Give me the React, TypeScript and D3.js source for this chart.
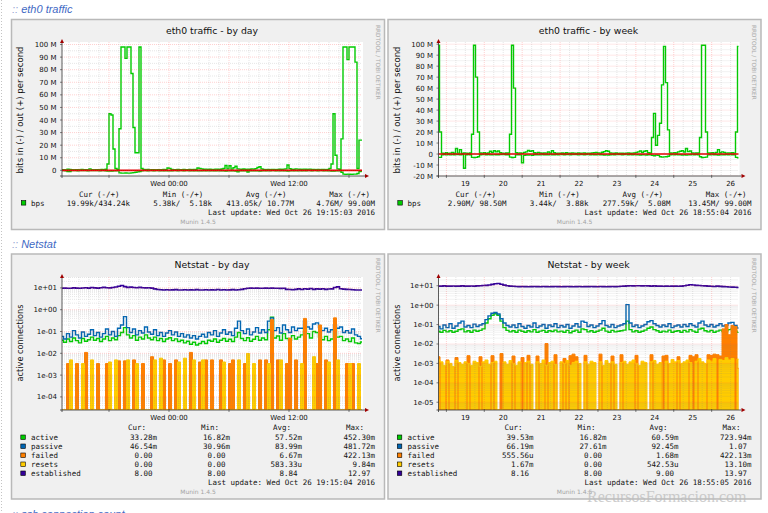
import React from "react";
import * as d3 from "d3";

const SANS = "'DejaVu Sans', Verdana, sans-serif";
const MONO = "'DejaVu Sans Mono', monospace";
const LEG_FS = 7.5;
const CHAR_W = LEG_FS * 0.602;

const GREEN = "#00cc00";
const ZERO_RED = "#e00000";
const MINOR = "rgba(130,130,130,0.33)";
const MAJOR = "rgba(255,70,70,0.42)";
const MIN_MS = 60000;
const HOUR_MS = 3600000;

// ---------- eth0 traffic by day (Mbit/s), one sample every 12 minutes ----------
const ethDayStart = Date.UTC(2016, 9, 25, 13, 18);
const ethDayStepMin = 12;
const ethDayOut = [
  0.6, 0.5, 0.4, 0.9, 0.7, 0.5, 0.4, 0.6, 0.5, 0.4,
  0.8, 0.5, 0.6, 0.4, 1.2, 0.5, 0.4, 0.6, 0.5, 0.4,
  0.7, 0.5, 0.9, 5, 45, 44, 17, 1.5, 0.8, 33,
  98, 98, 89, 98, 98, 77, 34, 14, 14, 98,
  1.5, 0.8, 0.5, 0.7, 0.4, 0.6, 0.5, 0.4, 0.6, 0.5,
  0.5, 0.7, 0.5, 1.8, 1.6, 0.8, 0.6, 0.5, 0.7, 0.6,
  0.5, 0.8, 0.6, 0.5, 0.7, 0.6, 0.8, 0.7, 1.8, 1.5,
  1.2, 0.9, 1.0, 0.8, 0.9, 0.7, 0.8, 1.0, 0.9, 0.8,
  1.1, 1.5, 3.8, 1.2, 3.6, 1.0, 2.0, 3.2, 1.2, 1.0,
  0.9, 1.1, 0.8, 1.0, 0.9, 1.2, 1.0, 1.4, 2.2, 2.8,
  1.2, 0.8, 0.6, 0.7, 0.6, 0.8, 0.7, 0.6, 0.8, 0.9,
  0.7, 1.0, 1.2, 4.2, 1.4, 0.9, 0.8, 1.2, 1.0, 0.9,
  0.8, 1.0, 0.9, 0.8, 1.0, 0.7, 0.8, 0.6, 0.7, 0.6,
  0.8, 0.7, 0.6, 0.8, 1.5, 5, 45, 12, 1.2, 0.9,
  25, 98, 98, 88, 98, 98, 98, 86, 1.5, 24, 24,
];
const ethDayIn = [
  0.2, 0.2, 0.3, 1.0, 0.9, 0.2, 0.1, 0.2, 0.3, 0.2,
  0.2, 0.1, 0.2, 0.3, 0.2, 0.2, 0.1, 0.2, 0.2, 0.3,
  0.2, 0.2, 0.3, 0.5, 0.6, 0.6, 0.4, 0.3, 0.2, 2.0,
  2.2, 2.2, 2.1, 2.2, 2.2, 2.0, 1.8, 1.5, 1.2, 1.0,
  0.3, 0.2, 0.2, 0.3, 0.2, 0.2, 0.3, 0.2, 0.2, 0.3,
  0.2, 0.3, 0.2, 0.3, 0.4, 0.3, 0.2, 0.2, 0.3, 0.2,
  0.2, 0.3, 0.2, 0.2, 0.3, 0.2, 0.3, 0.2, 0.3, 0.4,
  0.3, 0.2, 0.3, 0.2, 0.3, 0.2, 0.3, 0.3, 0.2, 0.3,
  0.3, 0.4, 0.5, 0.3, 0.4, 0.3, 0.4, 0.5, 1.2, 0.4,
  0.3, 0.3, 0.4, 1.3, 0.3, 0.3, 0.3, 0.4, 0.4, 0.5,
  0.3, 0.2, 0.3, 0.2, 0.3, 0.2, 0.2, 0.3, 0.2, 0.3,
  0.2, 0.3, 0.3, 0.6, 0.3, 0.2, 0.3, 0.2, 0.3, 0.2,
  0.3, 0.2, 0.3, 0.2, 0.2, 0.3, 0.2, 0.2, 0.3, 0.2,
  0.2, 0.3, 0.2, 0.3, 0.4, 0.5, 0.6, 0.4, 0.3, 0.4,
  1.5, 3.0, 3.2, 3.0, 3.1, 3.2, 3.0, 3.0, 2.5, 1.0, 0.5,
];
const ethDayTicks = [0, 10, 20, 30, 40, 50, 60, 70, 80, 90, 100];
const ethDayStats = ["19.99k/434.24k", "5.38k/  5.18k", "413.05k/ 10.77M", "4.76M/ 99.00M"];
const ethDayUpdated = "Wed Oct 26 19:15:03 2016";

// ---------- eth0 traffic by week (Mbit/s), one sample every 76 minutes ----------
const ethWeekStart = Date.UTC(2016, 9, 18, 19, 0);
const ethWeekStepMin = 76;
const ethWeekOut = [
  99, 20, 0.8, 0.6, 1.2, 0.5, 0.8, 1.5, 0.7, 5,
  0.8, 4, 0.6, 1.0, 0.8, 0.6, 0.9, 18, 99, 70,
  20, 1.0, 0.8, 1.2, 0.6, 1.0, 2.5, 1.5, 3.0, 2.0,
  2.8, 1.2, 0.8, 0.6, 0.9, 1.0, 18, 99, 60, 1.2,
  0.8, 1.0, 0.6, 1.5, 2.0, 3.2, 2.5, 3.0, 1.2, 0.8,
  1.5, 0.9, 0.7, 1.0, 0.8, 1.8, 1.0, 3.0, 1.2, 0.6,
  0.8, 0.7, 0.9, 0.6, 1.2, 0.8, 0.7, 1.0, 0.8, 0.6,
  0.9, 0.7, 0.8, 1.0, 0.6, 0.8, 0.7, 0.9, 1.2, 1.5,
  1.0, 0.8, 1.6, 2.2, 3.0, 2.6, 1.0, 0.8, 0.7, 0.9,
  0.6, 0.8, 0.7, 0.6, 0.8, 0.9, 0.7, 0.8, 1.0, 1.5,
  2.0, 2.8, 1.5, 2.5, 3.0, 1.2, 1.0, 15, 37, 8,
  17, 28, 63, 98, 65, 22, 1.0, 0.8, 1.2, 0.9,
  2.0, 2.5, 3.0, 1.8, 5.0, 2.2, 2.8, 1.0, 0.8, 0.9,
  1.0, 15, 99, 99, 20, 1.0, 0.9, 1.2, 0.8, 1.5,
  4.0, 1.2, 2.0, 1.5, 0.8, 1.0, 0.9, 1.2, 0.8, 20, 98,
];
const ethWeekIn = [
  3, 3, 0.8, 0.5, 0.6, 0.4, 0.8, 0.5, 0.6, 0.4,
  0.5, 0.6, 0.4, 13, 0.6, 0.5, 0.7, 3, 3.2, 3,
  2.5, 0.6, 0.5, 0.4, 0.6, 0.5, 0.8, 0.6, 0.5, 0.7,
  0.6, 0.5, 0.4, 0.5, 0.6, 0.7, 2.8, 3.2, 3.0, 0.8,
  0.6, 0.8, 8, 1.2, 0.9, 1.0, 0.8, 1.2, 0.7, 0.6,
  0.8, 0.6, 0.5, 0.7, 0.6, 0.8, 0.5, 0.6, 0.7, 0.5,
  0.6, 0.5, 0.4, 0.6, 0.5, 0.4, 0.6, 0.5, 0.4, 0.5,
  0.6, 0.4, 0.5, 0.6, 0.5, 0.4, 0.6, 0.5, 0.7, 0.6,
  0.5, 0.6, 0.7, 0.9, 0.8, 1.0, 0.6, 0.5, 0.6, 0.4,
  0.5, 0.4, 0.6, 0.5, 0.4, 0.6, 0.5, 0.6, 0.5, 0.7,
  0.8, 0.9, 0.7, 0.8, 0.9, 0.6, 0.8, 1.2, 1.5, 1.0,
  1.2, 2.5, 2.8, 2.6, 2.5, 2.0, 0.6, 0.5, 0.6, 0.5,
  0.8, 0.7, 0.9, 0.6, 1.0, 0.8, 0.7, 0.5, 0.6, 0.5,
  0.8, 2.5, 3.2, 3.0, 2.8, 0.8, 0.6, 0.5, 0.7, 0.6,
  1.0, 0.6, 0.8, 0.6, 0.5, 0.6, 0.5, 0.7, 0.8, 3.0, 3.5,
];
const ethWeekTicks = [-20, -10, 0, 10, 20, 30, 40, 50, 60, 70, 80, 90, 100];
const ethWeekStats = ["2.90M/ 98.50M", "3.44k/  3.88k", "277.59k/  5.08M", "13.45M/ 99.00M"];
const ethWeekUpdated = "Wed Oct 26 18:55:04 2016";

const ethStatHeads = ["Cur (-/+)", "Min (-/+)", "Avg (-/+)", "Max (-/+)"];

// ---------- netstat (active/passive/failed/resets in milli-connections per second) ----------
const netNames = ["active", "passive", "failed", "resets", "established"];
const netColors = ["#00cc00", "#0066b3", "#ff8000", "#ffcc00", "#330099"];
const netStatHeads = ["Cur:", "Min:", "Avg:", "Max:"];

const netDayStepMin = 18;
const netDayActive = [
  40, 32, 45, 35, 50, 38, 30, 48, 36, 42,
  55, 40, 48, 35, 45, 60, 38, 50, 42, 65,
  90, 150, 70, 50, 65, 40, 55, 45, 70, 50,
  42, 55, 38, 48, 35, 45, 52, 38, 46, 35,
  40, 30, 36, 26, 32, 24, 28, 35, 28, 40,
  36, 45, 32, 40, 48, 36, 44, 35, 55, 90,
  48, 38, 52, 36, 44, 60, 40, 50, 42, 120,
  452, 50, 62, 40, 80, 48, 38, 65, 45, 55,
  70, 130, 80, 50, 100, 90, 55, 42, 60, 38,
  45, 120, 55, 60, 38, 45, 35, 50, 30, 28, 33.28,
];
const netDayPassive = [
  60, 45, 80, 55, 110, 70, 50, 95, 60, 75,
  120, 65, 90, 55, 80, 130, 70, 100, 60, 140,
  200, 481, 150, 90, 130, 70, 110, 85, 160, 95,
  75, 120, 65, 90, 60, 85, 110, 70, 95, 60,
  80, 55, 70, 50, 65, 45, 60, 75, 55, 90,
  70, 110, 60, 85, 120, 75, 95, 65, 140, 300,
  110, 80, 130, 70, 95, 150, 85, 120, 90, 300,
  420, 110, 150, 85, 200, 120, 90, 160, 110, 140,
  140, 300, 160, 130, 220, 250, 150, 110, 140, 95,
  120, 200, 140, 160, 90, 110, 85, 130, 70, 60, 46.54,
];
const netDayFailed = [
  0, 0, 3.4, 0, 0, 3.4, 0, 0, 11, 0,
  0, 0, 3.4, 0, 0, 3.4, 0, 0, 0, 4.5,
  0, 4.5, 0, 0, 5, 0, 0, 3.4, 0, 0,
  7, 0, 0, 0, 5, 0, 3.4, 0, 5, 0,
  0, 0, 0, 11, 0, 0, 4, 0, 5, 0,
  5, 0, 0, 5, 0, 0, 3.4, 5, 0, 0,
  0, 3.4, 0, 0, 0, 0, 5, 0, 5, 0,
  350, 0, 5, 0, 0, 3.4, 50, 0, 5, 0,
  0, 400, 0, 0, 0, 3.4, 200, 0, 5, 0,
  0, 422.13, 0, 0, 0, 3.4, 0, 3.4, 0, 0, 0,
];
const netDayResets = [
  0, 0, 0, 5, 0, 0, 0, 3.4, 0, 0,
  5, 0, 0, 0, 0, 0, 4, 0, 5, 0,
  0, 0, 5, 0, 0, 3.4, 0, 0, 0, 0,
  0, 5, 0, 6, 0, 0, 0, 0, 0, 4,
  0, 6, 0, 0, 5, 0, 0, 5, 0, 0,
  0, 0, 0, 0, 4, 0, 0, 0, 0, 5,
  0, 0, 9.84, 0, 3.4, 0, 0, 0, 0, 3.4,
  0, 0, 0, 5, 0, 0, 0, 0, 0, 0,
  3.4, 0, 0, 0, 7, 0, 0, 0, 0, 4,
  0, 0, 5, 0, 0, 0, 3.4, 0, 0, 3.4, 0,
];
const netDayEstablished = [
  9.6, 9.8, 9.6, 9.7, 10.0, 9.8, 9.6, 9.9, 10.2, 9.8,
  10.4, 10.0, 9.8, 10.2, 10.6, 10.2, 10.0, 10.4, 11.0, 12.0,
  12.97, 11.5, 10.6, 10.8, 10.4, 10.2, 10.6, 10.2, 10.0, 10.2,
  9.8, 9.0, 8.4, 8.2, 8.0, 8.2, 8.0, 8.1, 8.3, 8.0,
  8.0, 8.2, 8.0, 8.1, 8.0, 8.3, 8.0, 8.0, 8.2, 8.0,
  8.1, 8.0, 8.4, 8.0, 8.2, 8.0, 8.1, 8.3, 8.0, 8.2,
  8.6, 9.2, 9.6, 9.8, 9.6, 9.8, 9.6, 9.7, 9.8, 9.6,
  9.8, 9.6, 9.7, 9.5, 9.6, 8.6, 8.4, 8.2, 8.6, 9.0,
  8.5, 9.2, 8.8, 9.4, 8.6, 9.0, 8.8, 9.2, 8.6, 8.9,
  9.0, 10.5, 11.2, 9.2, 8.8, 8.6, 8.4, 8.2, 8.0, 8.0, 8.0,
];
const netDayCur = ["33.28m", "46.54m", "0.00", "0.00", "8.00"];
const netDayMin = ["16.82m", "30.96m", "0.00", "0.00", "8.00"];
const netDayAvg = ["57.52m", "83.99m", "6.67m", "583.33u", "8.84"];
const netDayMax = ["452.30m", "481.72m", "422.13m", "9.84m", "12.97"];
const netDayUpdated = "Wed Oct 26 19:15:04 2016";

const netWeekStepMin = 114;
const netWeekActive = [
  45, 40, 50, 42, 48, 40, 45, 55, 60, 42,
  48, 40, 52, 45, 50, 60, 120, 200, 300, 360,
  300, 150, 70, 50, 42, 48, 40, 52, 45, 40,
  48, 42, 55, 40, 46, 50, 40, 48, 44, 52,
  42, 46, 40, 50, 38, 45, 52, 40, 60, 55,
  42, 48, 40, 45, 52, 65, 46, 40, 50, 42,
  45, 48, 52, 150, 55, 42, 48, 40, 45, 52,
  65, 75, 55, 48, 40, 46, 42, 52, 40, 45,
  48, 40, 50, 42, 55, 46, 40, 58, 65, 48,
  42, 50, 40, 46, 52, 44, 48, 55, 60, 45, 39.53,
];
const netWeekPassive = [
  80, 60, 95, 70, 110, 65, 85, 120, 150, 75,
  90, 70, 105, 80, 95, 110, 180, 280, 380, 420,
  350, 200, 120, 90, 75, 95, 70, 110, 80, 65,
  90, 75, 120, 70, 85, 100, 65, 95, 80, 110,
  70, 90, 75, 100, 65, 85, 110, 75, 150, 130,
  80, 95, 70, 85, 110, 160, 90, 75, 100, 70,
  85, 95, 110, 1070, 120, 80, 95, 70, 85, 100,
  140, 160, 110, 90, 75, 95, 80, 110, 70, 85,
  95, 75, 100, 80, 110, 90, 75, 120, 150, 95,
  80, 100, 75, 90, 110, 85, 95, 120, 130, 90, 66.19,
];
const netWeekFailed = [
  2.2, 0, 0, 1.5, 0, 0, 2.0, 0, 0, 0,
  2.5, 0, 0, 0, 2.2, 0, 0, 0, 2.5, 0,
  0, 3.2, 0, 0, 0, 2.4, 0, 0, 2.0, 0,
  2.6, 0, 0, 2.4, 0, 0, 10.5, 0, 0, 2.8,
  0, 0, 1.8, 0, 2.5, 3.0, 2.2, 0, 0, 2.6,
  0, 0, 0, 0, 3.0, 0, 0, 0, 2.4, 0,
  0, 2.8, 0, 0, 0, 0, 2.6, 0, 0, 0,
  0, 2.8, 0, 0, 0, 2.4, 2.6, 0, 0, 0,
  2.2, 0, 0, 0, 2.6, 2.2, 2.8, 0, 0, 0,
  2.8, 2.6, 3.0, 2.8, 2.4, 60, 100, 30, 90, 80, 0.56,
];
const netWeekResets = [
  1.5, 1.2, 0.8, 1.3, 1.0, 0.7, 1.4, 1.1, 0.9, 1.2,
  1.0, 0.8, 1.3, 1.1, 0.7, 1.2, 1.5, 0.9, 1.1, 1.3,
  0, 0, 1.2, 0.9, 1.4, 1.0, 0.8, 1.2, 0, 1.1,
  1.3, 0.9, 0, 1.2, 1.0, 1.5, 0.8, 1.1, 1.3, 0.9,
  0, 1.2, 1.0, 1.4, 0.8, 1.1, 1.3, 1.0, 0, 1.2,
  0.9, 1.3, 1.1, 0, 1.2, 0.8, 1.4, 1.0, 1.2, 0.9,
  0, 1.1, 1.3, 0.9, 1.2, 1.5, 1.0, 0.8, 1.3, 1.1,
  0, 1.2, 1.4, 0.9, 1.1, 0, 1.3, 1.0, 1.6, 1.2,
  1.4, 1.0, 1.2, 1.5, 1.1, 0, 1.3, 1.8, 1.2, 1.0,
  1.5, 1.3, 1.8, 0, 1.6, 1.4, 2.0, 1.5, 1.8, 0, 1.67,
];
const netWeekEstablished = [
  9.5, 9.6, 9.8, 9.6, 9.5, 9.7, 9.6, 9.5, 9.8, 9.6,
  9.5, 9.7, 9.6, 9.8, 10.0, 10.2, 10.5, 11.0, 11.8, 12.6,
  13.0, 12.0, 10.8, 10.0, 9.6, 9.4, 9.2, 9.0, 9.2, 9.0,
  8.9, 9.0, 9.2, 9.0, 8.9, 9.1, 9.0, 8.8, 9.0, 9.1,
  9.0, 8.9, 9.0, 9.2, 9.0, 8.8, 9.0, 9.1, 8.9, 9.0,
  9.0, 9.2, 9.0, 8.9, 9.1, 9.0, 8.8, 9.0, 9.2, 9.0,
  9.2, 9.4, 9.6, 9.8, 10.0, 9.8, 9.9, 10.0, 9.8, 10.0,
  9.8, 9.6, 9.8, 9.5, 9.6, 9.4, 9.5, 9.4, 9.6, 9.5,
  9.4, 9.6, 10.0, 10.6, 11.2, 11.0, 10.5, 10.2, 10.0, 9.8,
  9.6, 9.4, 9.2, 9.5, 9.3, 9.0, 8.8, 8.6, 8.5, 8.3, 8.16,
];
const netWeekCur = ["39.53m", "66.19m", "555.56u", "1.67m", "8.16"];
const netWeekMin = ["16.82m", "27.61m", "0.00", "0.00", "8.00"];
const netWeekAvg = ["60.59m", "92.45m", "1.68m", "542.53u", "9.00"];
const netWeekMax = ["723.94m", "1.07", "422.13m", "13.10m", "13.97"];
const netWeekUpdated = "Wed Oct 26 18:55:05 2016";

type Mode = "day" | "week";

function timeMarks(mode: Mode, t0: number, t1: number) {
  const a = new Date(t0);
  const b = new Date(t1 + 1);
  if (mode === "day") {
    const fmt = d3.utcFormat("%a %H:%M");
    return {
      minor: d3.utcHour.range(a, b),
      major: d3.utcHour.every(6)!.range(a, b),
      labels: d3.utcHour.every(12)!.range(a, b).map((d) => ({ t: d, text: fmt(d) })),
    };
  }
  const fmt = d3.utcFormat("%d");
  return {
    minor: d3.utcHour.every(6)!.range(a, b),
    major: d3.utcDay.range(a, b),
    labels: d3.utcDay
      .range(new Date(t0 - 24 * HOUR_MS), b)
      .map((d) => ({ t: new Date(+d + 12 * HOUR_MS), text: fmt(d) }))
      .filter((l) => +l.t >= t0 && +l.t <= t1),
  };
}

function Frame(p: {
  dx: number; top: number; bottom: number; title: string; titleY: number;
  yTitle: string; yTitleY: number; yTitleFs: number; rrdY: number; muninY: number;
}) {
  const { dx } = p;
  return (
    <g>
      <rect x={11.5 + dx} y={p.top} width={373} height={p.bottom - p.top} fill="#f0f0f0" stroke="#b9b9b9" strokeWidth={1.5} />
      <text x={212 + dx} y={p.titleY} textAnchor="middle" fontFamily={SANS} fontSize={9.3} fill="#111">{p.title}</text>
      <text transform={`translate(${375.5 + dx},${p.rrdY}) rotate(90)`} fontFamily={SANS} fontSize={5.8} fill="#aaaaaa">
        RRDTOOL / TOBI OETIKER
      </text>
      <text transform={`translate(${23 + dx},${p.yTitleY}) rotate(-90)`} textAnchor="middle" fontFamily={SANS} fontSize={p.yTitleFs} fill="#111">
        {p.yTitle}
      </text>
      <text x={198 + dx} y={p.muninY} textAnchor="middle" fontFamily={SANS} fontSize={6} fill="#a3a3a3">Munin 1.4.5</text>
    </g>
  );
}

function Axes({ x0, x1, yT, yB, ticksX }: { x0: number; x1: number; yT: number; yB: number; ticksX: number[] }) {
  return (
    <g>
      <line x1={x0} y1={yB + 2} x2={x0} y2={yT + 1} stroke="#333" strokeWidth={0.8} />
      <line x1={x0 - 2} y1={yB} x2={x1 + 3} y2={yB} stroke="#333" strokeWidth={0.8} />
      <path d={`M${x0 - 2},${yT + 1}L${x0 + 2},${yT + 1}L${x0},${yT - 3}Z`} fill="#a00000" />
      <path d={`M${x1 + 3},${yB - 2}L${x1 + 3},${yB + 2}L${x1 + 7},${yB}Z`} fill="#a00000" />
      {ticksX.map((tx, i) => (
        <line key={i} x1={tx} x2={tx} y1={yB - 1} y2={yB + 2} stroke="#333" strokeWidth={0.6} />
      ))}
    </g>
  );
}

function VGrid({ x, marks, yT, yB }: { x: (d: Date) => number; marks: ReturnType<typeof timeMarks>; yT: number; yB: number }) {
  const majorSet = new Set(marks.major.map((d) => +d));
  return (
    <g>
      {marks.minor.filter((d) => !majorSet.has(+d)).map((d, i) => (
        <line key={"m" + i} x1={x(d)} x2={x(d)} y1={yT} y2={yB} stroke={MINOR} strokeWidth={0.6} strokeDasharray="1,1" />
      ))}
      {marks.major.map((d, i) => (
        <line key={"M" + i} x1={x(d)} x2={x(d)} y1={yT} y2={yB} stroke={MAJOR} strokeWidth={0.6} strokeDasharray="1,1" />
      ))}
    </g>
  );
}

function EthPanel(p: {
  id: string; dx: number; title: string; start: number; stepMin: number;
  outV: number[]; inV: number[]; domain: [number, number]; ticks: number[];
  mode: Mode; stats: string[]; updated: string;
}) {
  const { dx } = p;
  const x0 = 62 + dx, x1 = 362 + dx, yT = 42, yB = 176;
  const step = p.stepMin * MIN_MS;
  const t0 = p.start, t1 = p.start + (p.outV.length - 1) * step;
  const x = d3.scaleUtc().domain([t0, t1]).range([x0, x1]);
  const y = d3.scaleLinear().domain(p.domain).range([yB, yT]);
  const xi = (_: number, i: number) => x(t0 + i * step);
  const outPath = d3.line<number>().x(xi).y((v) => y(v)).curve(d3.curveStep)(p.outV) || "";
  const inPath = d3.line<number>().x(xi).y((v) => y(-v)).curve(d3.curveStep)(p.inV) || "";
  const marks = timeMarks(p.mode, t0, t1);
  const minorY = d3.range(Math.ceil(p.domain[0] / 5) * 5, p.domain[1], 5).filter((v) => v % 10 !== 0);
  const headX = [79, 162.7, 246, 329.3];
  const colEnd = [130, 212, 294, 375];
  return (
    <g>
      <Frame dx={dx} top={19.5} bottom={229.5} title={p.title} titleY={33.5}
        yTitle="bits in (-) / out (+) per second" yTitleY={110} yTitleFs={8.5} rrdY={25} muninY={224} />
      <clipPath id={p.id}>
        <rect x={x0} y={yT} width={x1 - x0 + 1} height={yB - yT} />
      </clipPath>
      <rect x={x0} y={yT} width={x1 - x0 + 1} height={yB - yT} fill="#fff" />
      <g clipPath={`url(#${p.id})`}>
        <path d={inPath} fill="none" stroke={GREEN} strokeWidth={1.4} />
        <path d={outPath} fill="none" stroke={GREEN} strokeWidth={1.4} />
        <line x1={x0} x2={x1} y1={y(0)} y2={y(0)} stroke={ZERO_RED} strokeWidth={1.6} />
        {minorY.map((v) => (
          <line key={"hm" + v} x1={x0} x2={x1} y1={y(v)} y2={y(v)} stroke={MINOR} strokeWidth={0.6} strokeDasharray="1,1" />
        ))}
        {p.ticks.map((v) => (
          <line key={"hM" + v} x1={x0} x2={x1} y1={y(v)} y2={y(v)} stroke={MAJOR} strokeWidth={0.6} strokeDasharray="1,1" />
        ))}
        <VGrid x={(d) => x(d)} marks={marks} yT={yT} yB={yB} />
      </g>
      <Axes x0={x0} x1={x1} yT={yT} yB={yB} ticksX={marks.major.map((d) => x(d))} />
      {p.ticks.map((v) => (
        <g key={"t" + v}>
          <line x1={x0 - 2} x2={x0} y1={y(v)} y2={y(v)} stroke="#333" strokeWidth={0.6} />
          <text x={x0 - 5.5} y={y(v) + 2.5} textAnchor="end" fontFamily={SANS} fontSize={7} fill="#111">
            {v === 0 ? "0" : `${v} M`}
          </text>
        </g>
      ))}
      {marks.labels.map((l, i) => (
        <text key={"xl" + i} x={x(l.t)} y={186} textAnchor="middle" fontFamily={SANS} fontSize={7} fill="#111">{l.text}</text>
      ))}
      <g fontFamily={MONO} fontSize={LEG_FS} fill="#111">
        {ethStatHeads.map((h, i) => (
          <text key={h} x={headX[i] + dx} y={197} xmlSpace="preserve" style={{ whiteSpace: "pre" }}>{h}</text>
        ))}
        <rect x={21.3 + dx} y={200.6} width={4.5} height={4.5} fill={GREEN} stroke="#000" strokeWidth={0.6} />
        <text x={31 + dx} y={206}>bps</text>
        {p.stats.map((s, i) => (
          <text key={i} x={colEnd[i] + dx} y={206} textAnchor="end" xmlSpace="preserve" style={{ whiteSpace: "pre" }}>{s}</text>
        ))}
        <text x={375 + dx} y={215} textAnchor="end" xmlSpace="preserve" style={{ whiteSpace: "pre" }}>
          {`Last update: ${p.updated}`}
        </text>
      </g>
    </g>
  );
}

function NetPanel(p: {
  id: string; dx: number; title: string; start: number; stepMin: number;
  active: number[]; passive: number[]; failed: number[]; resets: number[]; established: number[];
  logMin: number; logMax: number; mode: Mode; stats: string[][]; updated: string;
}) {
  const { dx } = p;
  const x0 = 62 + dx, x1 = 362 + dx, yT = 277, yB = 410;
  const step = p.stepMin * MIN_MS;
  const n = p.active.length;
  const t0 = p.start, t1 = p.start + (n - 1) * step;
  const x = d3.scaleUtc().domain([t0, t1]).range([x0, x1]);
  const lo = Math.pow(10, p.logMin), hi = Math.pow(10, p.logMax);
  const y = d3.scaleLog().domain([lo, hi]).range([yB, yT]);
  const yv = (v: number) => (v > 0 ? y(v) : yB);
  const xi = (_: number, i: number) => x(t0 + i * step);
  const milliLine = d3.line<number>().x(xi).y((v) => yv(v / 1000)).curve(d3.curveStep);
  const milliArea = d3.area<number>().x(xi).y0(yB).y1((v) => yv(v / 1000)).curve(d3.curveStep);
  const rawLine = d3.line<number>().x(xi).y((v) => yv(v)).curve(d3.curveStep);
  const marks = timeMarks(p.mode, t0, t1);
  const decades = d3.range(Math.ceil(p.logMin), Math.floor(p.logMax) + 1);
  const minorY: number[] = [];
  for (let e = Math.floor(p.logMin); e <= Math.ceil(p.logMax); e++) {
    for (let k = 2; k <= 9; k++) {
      const v = k * Math.pow(10, e);
      if (v > lo && v < hi) minorY.push(v);
    }
  }
  const expLabel = (e: number) => `1e${e < 0 ? "-" : "+"}${String(Math.abs(e)).padStart(2, "0")}`;
  const colEnd = [157, 230, 302, 375];
  return (
    <g>
      <Frame dx={dx} top={254} bottom={499} title={p.title} titleY={267.5}
        yTitle="active connections" yTitleY={343} yTitleFs={8.2} rrdY={258} muninY={494} />
      <clipPath id={p.id}>
        <rect x={x0} y={yT} width={x1 - x0 + 1} height={yB - yT} />
      </clipPath>
      <rect x={x0} y={yT} width={x1 - x0 + 1} height={yB - yT} fill="#fff" />
      <g clipPath={`url(#${p.id})`}>
        <path d={milliLine(p.active) || ""} fill="none" stroke={netColors[0]} strokeWidth={1.4} />
        <path d={milliLine(p.passive) || ""} fill="none" stroke={netColors[1]} strokeWidth={1.4} />
        <path d={milliArea(p.failed) || ""} fill={netColors[2]} />
        <path d={milliArea(p.resets) || ""} fill={netColors[3]} />
        <path d={milliLine(p.failed) || ""} fill="none" stroke={netColors[2]} strokeWidth={1} />
        <path d={milliLine(p.resets) || ""} fill="none" stroke={netColors[3]} strokeWidth={1} />
        <path d={rawLine(p.established) || ""} fill="none" stroke={netColors[4]} strokeWidth={1.6} />
        {minorY.map((v, i) => (
          <line key={"hm" + i} x1={x0} x2={x1} y1={y(v)} y2={y(v)} stroke={MINOR} strokeWidth={0.6} strokeDasharray="1,1" />
        ))}
        {decades.map((e) => (
          <line key={"hM" + e} x1={x0} x2={x1} y1={y(Math.pow(10, e))} y2={y(Math.pow(10, e))} stroke={MAJOR} strokeWidth={0.6} strokeDasharray="1,1" />
        ))}
        <VGrid x={(d) => x(d)} marks={marks} yT={yT} yB={yB} />
      </g>
      <Axes x0={x0} x1={x1} yT={yT} yB={yB} ticksX={marks.major.map((d) => x(d))} />
      {decades.map((e) => (
        <g key={"t" + e}>
          <line x1={x0 - 2} x2={x0} y1={y(Math.pow(10, e))} y2={y(Math.pow(10, e))} stroke="#333" strokeWidth={0.6} />
          <text x={x0 - 5} y={y(Math.pow(10, e)) + 2.5} textAnchor="end" fontFamily={SANS} fontSize={7} fill="#111">
            {expLabel(e)}
          </text>
        </g>
      ))}
      {marks.labels.map((l, i) => (
        <text key={"xl" + i} x={x(l.t)} y={419.7} textAnchor="middle" fontFamily={SANS} fontSize={7} fill="#111">{l.text}</text>
      ))}
      <g fontFamily={MONO} fontSize={LEG_FS} fill="#111">
        {netStatHeads.map((h, i) => (
          <text key={h} x={colEnd[i] - 11 + dx} y={430} textAnchor="end">{h}</text>
        ))}
        {netNames.map((name, r) => {
          const by = 440 + 9 * r;
          return (
            <g key={name}>
              <rect x={20.8 + dx} y={by - 5} width={4.5} height={4.5} fill={netColors[r]} stroke="#000" strokeWidth={0.6} />
              <text x={31 + dx} y={by}>{name}</text>
              {p.stats.map((col, c) => {
                const s = col[r];
                const hasUnit = /[a-zA-Z]$/.test(s);
                return (
                  <text key={c} x={colEnd[c] + dx - (hasUnit ? 0 : CHAR_W)} y={by} textAnchor="end">{s}</text>
                );
              })}
            </g>
          );
        })}
        <text x={375 + dx} y={485} textAnchor="end" xmlSpace="preserve" style={{ whiteSpace: "pre" }}>
          {`Last update: ${p.updated}`}
        </text>
      </g>
    </g>
  );
}

function SectionHead({ y, text }: { y: number; text: string }) {
  return (
    <text x={12} y={y} fontFamily="'Liberation Sans', Arial, sans-serif" fontStyle="italic" fontSize={11}>
      <tspan fill="#95a6d2">{":: "}</tspan>
      <tspan fill="#4169c4">{text}</tspan>
    </text>
  );
}

export default function App() {
  const W2 = 376.5;
  return (
    <svg width={768} height={513} viewBox="0 0 768 513" style={{ position: "absolute", left: 0, top: 0, display: "block" }}>
      <rect width={768} height={513} fill="#fff" />
      <line x1={1.5} y1={0} x2={1.5} y2={513} stroke="#c4c4c4" strokeDasharray="1,2" />
      <SectionHead y={13} text="eth0 traffic" />
      <EthPanel id="ethDay" dx={0} title="eth0 traffic - by day" start={ethDayStart} stepMin={ethDayStepMin}
        outV={ethDayOut} inV={ethDayIn} domain={[-4.5, 102]} ticks={ethDayTicks} mode="day"
        stats={ethDayStats} updated={ethDayUpdated} />
      <EthPanel id="ethWeek" dx={W2} title="eth0 traffic - by week" start={ethWeekStart} stepMin={ethWeekStepMin}
        outV={ethWeekOut} inV={ethWeekIn} domain={[-20, 102]} ticks={ethWeekTicks} mode="week"
        stats={ethWeekStats} updated={ethWeekUpdated} />
      <SectionHead y={248} text="Netstat" />
      <NetPanel id="netDay" dx={0} title="Netstat - by day" start={ethDayStart} stepMin={netDayStepMin}
        active={netDayActive} passive={netDayPassive} failed={netDayFailed} resets={netDayResets}
        established={netDayEstablished} logMin={-4.6} logMax={1.5} mode="day"
        stats={[netDayCur, netDayMin, netDayAvg, netDayMax]} updated={netDayUpdated} />
      <NetPanel id="netWeek" dx={W2} title="Netstat - by week" start={ethWeekStart} stepMin={netWeekStepMin}
        active={netWeekActive} passive={netWeekPassive} failed={netWeekFailed} resets={netWeekResets}
        established={netWeekEstablished} logMin={-5.4} logMax={1.45} mode="week"
        stats={[netWeekCur, netWeekMin, netWeekAvg, netWeekMax]} updated={netWeekUpdated} />
      <SectionHead y={517.5} text="ssh connection count" />
      <text x={587} y={501.5} fontFamily="'Liberation Serif', serif" fontSize={16} fill="#bdbdbd" opacity={0.75}>
        RecursosFormacion.com
      </text>
    </svg>
  );
}
